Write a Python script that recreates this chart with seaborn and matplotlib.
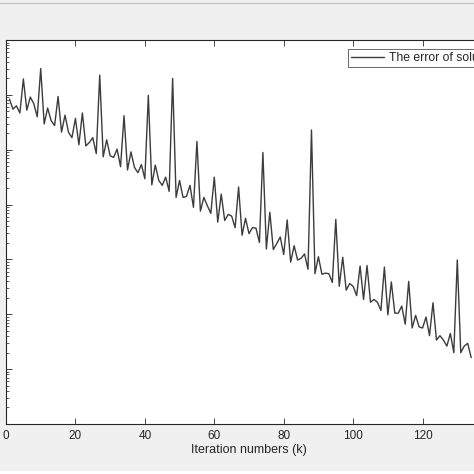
import numpy as np
import pandas as pd
import matplotlib
matplotlib.use("Agg")
import matplotlib.pyplot as plt
from matplotlib.lines import Line2D
from matplotlib.patches import Rectangle
import seaborn as sns

# iteration numbers and log10 of the error
iterations = list(range(1, 135))
log_err = [
    -7.08, -7.26, -7.20, -7.33, -6.71, -7.28, -7.04, -7.16, -7.40, -6.52,
    -7.53, -7.24, -7.47, -7.56, -7.03, -7.68, -7.37, -7.68, -7.78, -7.43,
    -7.91, -7.33, -7.93, -7.87, -7.78, -8.07, -6.64, -8.13, -7.82, -8.11,
    -8.14, -7.99, -8.31, -7.38, -8.37, -8.04, -8.32, -8.42, -8.27, -8.53,
    -7.01, -8.64, -8.28, -8.56, -8.65, -8.50, -8.76, -6.70, -8.87, -8.56,
    -8.87, -8.85, -8.65, -9.05, -7.85, -9.12, -8.87, -9.02, -9.16, -8.50,
    -9.32, -8.81, -9.29, -9.18, -9.21, -9.42, -8.68, -9.56, -9.25, -9.53,
    -9.42, -9.43, -9.69, -8.05, -9.81, -9.14, -9.82, -9.71, -9.59, -9.91,
    -9.28, -10.05, -9.75, -10.01, -9.98, -9.90, -10.18, -7.64, -10.26, -9.95,
    -10.27, -10.25, -10.26, -10.42, -9.27, -10.49, -9.96, -10.56, -10.44, -10.49,
    -10.66, -10.12, -10.73, -10.11, -10.78, -10.73, -10.78, -10.93, -10.14, -11.01,
    -10.41, -10.98, -10.98, -10.85, -11.18, -10.40, -11.25, -11.02, -11.23, -11.25,
    -11.05, -11.39, -10.79, -11.47, -11.39, -11.47, -11.58, -11.35, -11.70, -10.01,
    -11.70, -11.58, -11.53, -11.79,
]
x_ticks = [0, 20, 40, 60, 80, 100, 120, 140]
legend_label = "The error of solution"

df = pd.DataFrame({"k": iterations, "err": 10.0 ** np.array(log_err)})

sns.set_style("ticks")
plt.rcParams["font.family"] = ["Liberation Sans", "DejaVu Sans"]
plt.rcParams["mathtext.fontset"] = "custom"
plt.rcParams["mathtext.rm"] = "Liberation Sans"

W = H = 474
fig = plt.figure(figsize=(W / 100, H / 100), dpi=100)
fig.patch.set_facecolor("#f0f0f0")

# axes run off the right edge, tick labels on the left are cut off
ax = fig.add_axes([6 / W, 50 / H, 486 / W, 384 / H])
sns.lineplot(data=df, x="k", y="err", ax=ax, color="#3c3c3c", linewidth=1.0,
             label=legend_label)
ax.set_yscale("log")
ax.set_xlim(0, 140)
ax.set_ylim(1e-13, 1e-6)
ax.set_xticks(x_ticks)
ax.set_xlabel("Iteration numbers (k)", fontsize=9, color="#262626", labelpad=2)
ax.set_ylabel("")

for s in ax.spines.values():
    s.set_color("#262626")
    s.set_linewidth(0.8)
ax.tick_params(axis="both", which="both", direction="in", top=True, right=True,
               colors="#262626", labelsize=8.5)
ax.tick_params(axis="both", which="major", length=4, width=0.6)
ax.tick_params(axis="y", which="minor", length=2, width=0.5)
ax.tick_params(axis="x", pad=4)
ax.tick_params(axis="y", pad=4)

leg = ax.legend(loc="upper left", bbox_to_anchor=(348 / W, 1 - 49 / H),
                bbox_transform=fig.transFigure, fontsize=8.8, frameon=True,
                fancybox=False, borderpad=0.25, handlelength=2.7,
                handletextpad=0.4, borderaxespad=0)
leg.get_frame().set_edgecolor("#262626")
leg.get_frame().set_linewidth(0.6)

# thin border line at the top and white strip at the bottom of the screenshot
fig.add_artist(Line2D([0, 1], [1 - 2.5 / H, 1 - 2.5 / H], transform=fig.transFigure,
                      color="#c4c4c4", linewidth=1))
fig.add_artist(Rectangle((0, 0), 1, 3 / H, transform=fig.transFigure,
                         facecolor="white", edgecolor="none"))

fig.savefig("out.png", dpi=100, facecolor=fig.get_facecolor())
